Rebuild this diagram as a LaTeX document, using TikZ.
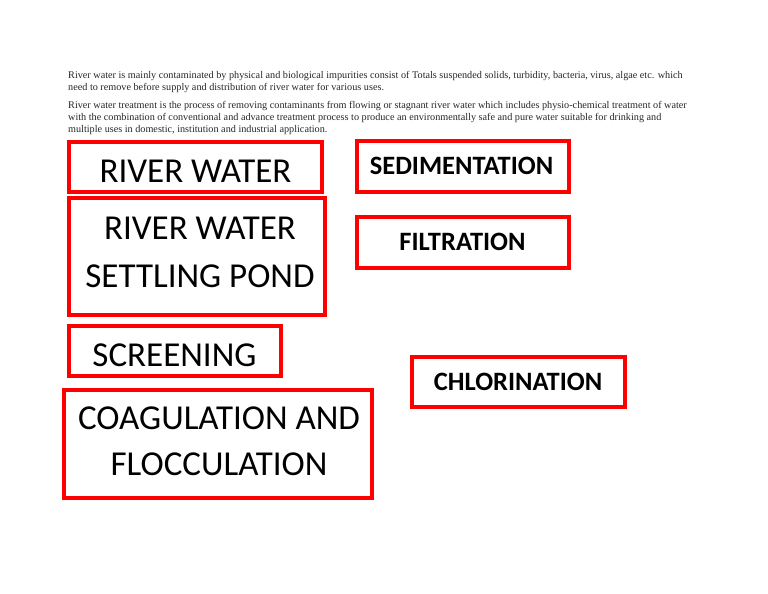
\documentclass[tikz,border=0pt]{standalone}
\usepackage{fontspec}
\setmainfont{Liberation Serif}
\newfontfamily\boxfont{Carlito}
\tikzset{
  box/.style={draw=red, line width=3.8pt, inner sep=0pt},
  big/.style={font=\boxfont\fontsize{35}{48}\selectfont, align=center, inner sep=0pt},
  bold/.style={font=\boxfont\bfseries\fontsize{26.5}{30}\selectfont, inner sep=0pt},
  para/.style={font=\fontsize{10.2}{12}\selectfont, align=left, anchor=north west, inner sep=0pt, text=black!85},
}
\begin{document}
\begin{tikzpicture}[x=1pt,y=-1pt]
\useasboundingbox (0,0) rectangle (768,594);
\node[para] (p1) at (68,71) {River water is mainly contaminated by physical and biological impurities consist of Totals suspended solids, turbidity, bacteria, virus, algae etc. which\\need to remove before supply and distribution of river water for various uses.};
\node[para] (p2) at (68,101) {River water treatment is the process of removing contaminants from flowing or stagnant river water which includes physio-chemical treatment of water\\with the combination of conventional and advance treatment process to produce an environmentally safe and pure water suitable for drinking and\\multiple uses in domestic, institution and industrial application.};
% boxes
\draw[box] (69,142) rectangle (322,192);
\node[big] (rw) at (195.5,171.5) {RIVER WATER};
\draw[box] (69,198) rectangle (325,315);
\node[big] (sp) at (200,252.5) {RIVER WATER\\SETTLING POND};
\draw[box] (69,326) rectangle (281,376);
\node[big] (sc) at (174.5,355) {SCREENING};
\draw[box] (64,390) rectangle (372,498);
\node[big, font=\boxfont\fontsize{35}{46}\selectfont] (cf) at (219,441) {COAGULATION AND\\FLOCCULATION};
\draw[box] (357,141) rectangle (569,192);
\node[bold] (sd) at (461.5,166) {SEDIMENTATION};
\draw[box] (357,217) rectangle (569,268);
\node[bold] (fl) at (462.5,242) {FILTRATION};
\draw[box] (412,357) rectangle (625,407);
\node[bold] (ch) at (518,382) {CHLORINATION};
\end{tikzpicture}
\end{document}
